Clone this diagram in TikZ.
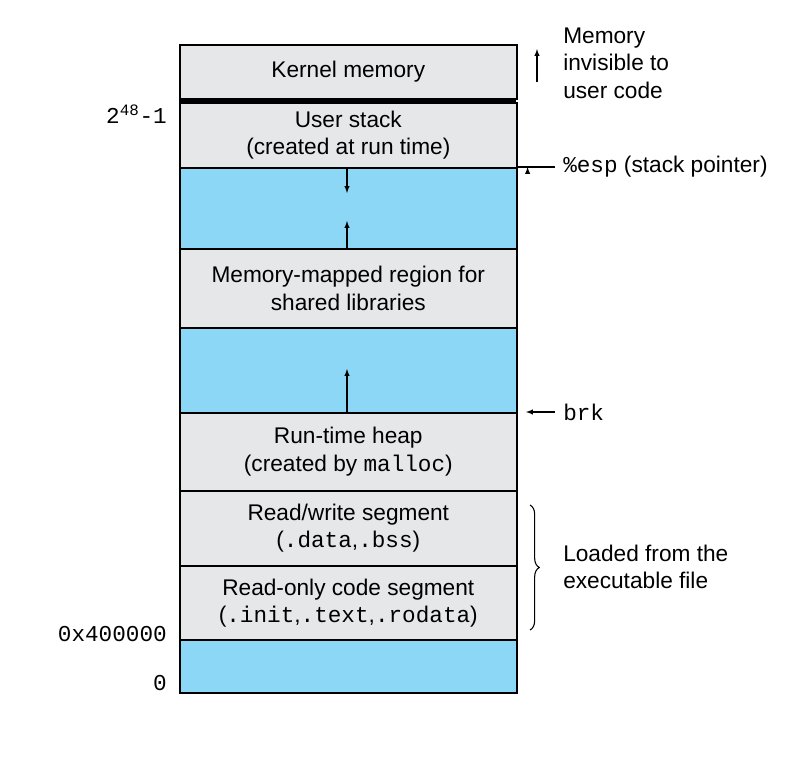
\documentclass[tikz,border=0pt]{standalone}
\usepackage{fontspec}
\setmainfont{Liberation Sans}
\setmonofont{Liberation Mono}
\usetikzlibrary{decorations.pathreplacing}
\definecolor{segblue}{RGB}{140,215,245}
\definecolor{seggray}{RGB}{230,231,232}
\tikzset{
  seg/.style={draw, line width=1.2pt, fill=seggray, minimum width=337*0.75pt,
              inner sep=0pt, align=center, anchor=north west},
  free/.style={seg, fill=segblue},
  ptr/.style={-latex, line width=0.8pt},
  lbl/.style={align=left, anchor=west, inner sep=0pt}
}
\begin{document}
\begin{tikzpicture}[x=0.75pt, y=-0.75pt, font=\fontsize{17}{20.5}\selectfont]
  \useasboundingbox (0,0) rectangle (811,771);
  % segments, top to bottom
  \node[seg, minimum height=54*0.75pt] (kern) at (179,44) {Kernel memory};
  \node[seg, minimum height=65*0.75pt] (stack) at (179,102) {User stack\\(created at run time)};
  \draw[line width=2.5pt] (179,100) -- (516,100);
  \node[free, minimum height=81*0.75pt] (gap1) at (179,167) {};
  \node[seg, minimum height=79*0.75pt] (mmap) at (179,248) {Memory-mapped region for\\shared libraries};
  \node[free, minimum height=85*0.75pt] (gap2) at (179,327) {};
  \node[seg, minimum height=78*0.75pt] (heap) at (179,412) {Run-time heap\\(created by \texttt{malloc})};
  \node[seg, minimum height=75*0.75pt] (rw) at (179,490) {Read/write segment\\(\texttt{.data},\texttt{.bss})};
  \node[seg, minimum height=74*0.75pt] (ro) at (179,565) {Read-only code segment\\(\texttt{.init},\texttt{.text},\texttt{.rodata})};
  \node[free, minimum height=53*0.75pt] (gap3) at (179,639) {};
  % growth arrows
  \coordinate (sdown) at (347,193);
  \coordinate (mup) at (347,221);
  \coordinate (hup) at (347,369);
  \draw[ptr] (gap1.north -| sdown) -- (sdown);
  \draw[ptr] (gap1.south -| mup) -- (mup);
  \draw[ptr] (gap2.south -| hup) -- (hup);
  % addresses
  \node[anchor=east, inner sep=0pt] (top) at (167,114) {\texttt{2\textsuperscript{48}-1}};
  \node[anchor=east, inner sep=0pt] (text) at (167,634) {\texttt{0x400000}};
  \node[anchor=east, inner sep=0pt] (zero) at (167,683) {\texttt{0}};
  % right side notes
  \node[lbl] (inv) at (563,63) {Memory\\invisible to\\user code};
  \coordinate (invlo) at (537,82);
  \coordinate (invhi) at (537,49);
  \draw[ptr] (invlo) -- (invhi);
  \node[lbl] (esp) at (563,167) {\texttt{\%esp} (stack pointer)};
  \draw[ptr] (esp.west) ++(-8,0) coordinate (espt) (espt) -- (gap1.north east) ++(10,0);
  \node[lbl] (brk) at (563,412) {\texttt{brk}};
  \coordinate (brkt) at (555,412);
  \coordinate (brkh) at (526,412);
  \draw[ptr] (brkt) -- (brkh);
  \coordinate (espt2) at (555,167);
  \coordinate (esph) at (526,167);
  \node[lbl] (load) at (563,567) {Loaded from the\\executable file};
  \draw[line width=0.8pt, decorate, decoration={brace, amplitude=7pt}]
    (530,505) -- (530,630);
\end{tikzpicture}
\end{document}
